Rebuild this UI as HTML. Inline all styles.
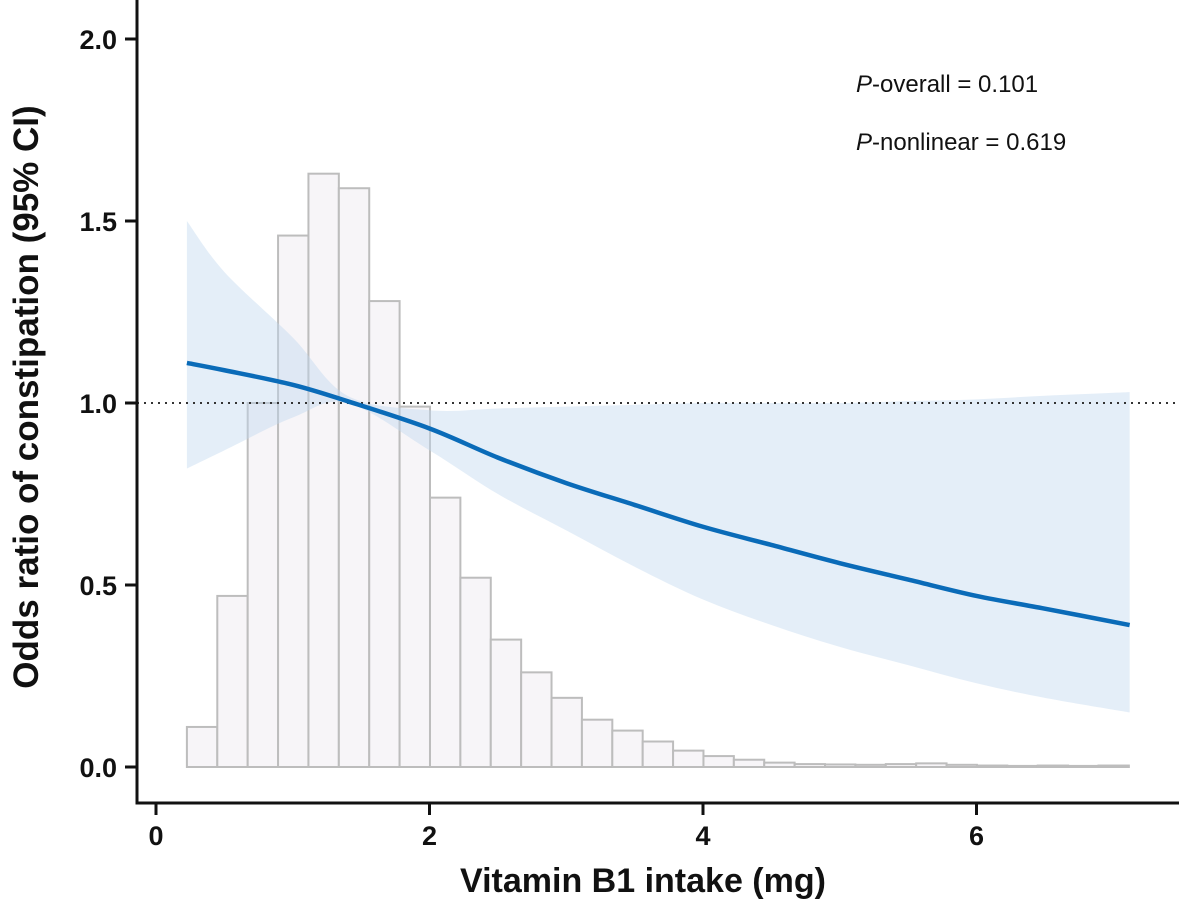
<!DOCTYPE html>
<html><head><meta charset="utf-8"><style>
html,body{margin:0;padding:0;background:#fff;}
svg text{font-family:"Liberation Sans",Arial,sans-serif;}
</style></head><body>
<svg id="chart" width="1179" height="910" viewBox="0 0 1179 910" xmlns="http://www.w3.org/2000/svg">
<g id="bars"></g>
<g id="band"></g>
<line x1="137" y1="403" x2="1179" y2="403" stroke="#333" stroke-width="2" stroke-dasharray="2,5"/>
<g id="curve"></g>
<g id="axes"></g>
<text x="856" y="92" font-size="24" fill="#111"><tspan font-style="italic">P</tspan>-overall = 0.101</text>
<text x="856" y="150" font-size="24" fill="#111"><tspan font-style="italic">P</tspan>-nonlinear = 0.619</text>
<text x="643" y="892" font-size="34" font-weight="bold" text-anchor="middle" fill="#111">Vitamin B1 intake (mg)</text>
<text transform="translate(38,397) rotate(-90)" font-size="35" font-weight="bold" text-anchor="middle" fill="#111">Odds ratio of constipation (95% CI)</text>
</svg>
<script>
const binStart = 0.226, binWidth = 0.2222;
const binHeights = [0.11,0.47,1.0,1.46,1.63,1.59,1.28,0.99,0.74,0.52,0.35,0.26,0.19,0.13,0.10,0.07,0.045,0.03,0.02,0.012,0.008,0.007,0.006,0.008,0.01,0.006,0.004,0.003,0.004,0.003,0.004];
const curveX = [0.226,0.5,1.0,1.4,2.0,2.5,3.0,3.5,4.0,4.5,5.0,5.5,6.0,6.5,7.12];
const curveY = [1.11,1.09,1.05,1.005,0.93,0.85,0.78,0.72,0.66,0.61,0.56,0.515,0.47,0.435,0.39];
const upperY = [1.50,1.36,1.18,1.02,0.98,0.985,0.99,0.995,1.0,1.0,1.0,1.005,1.01,1.02,1.03];
const lowerY = [0.82,0.87,0.96,1.0,0.87,0.75,0.65,0.55,0.46,0.39,0.33,0.28,0.23,0.19,0.15];
const xTicks = [0,2,4,6];
const yTicks = [0.0,0.5,1.0,1.5,2.0];
const ns="http://www.w3.org/2000/svg";
const X=v=>156+v*136.75, Y=v=>767-v*364;
function mk(t,a,p){const e=document.createElementNS(ns,t);for(const k in a)e.setAttribute(k,a[k]);p.appendChild(e);return e;}
const bars=document.getElementById('bars');
binHeights.forEach((h,i)=>{const x0=X(binStart+i*binWidth),x1=X(binStart+(i+1)*binWidth);
const r=mk('rect',{x:x0,y:Y(h),width:x1-x0,height:767-Y(h),fill:'#f7f5f8',stroke:'#bdbdbd','stroke-width':2},bars);

});
function smooth(pts){let s='M'+pts[0][0]+','+pts[0][1];for(let i=0;i<pts.length-1;i++){const p0=pts[Math.max(i-1,0)],p1=pts[i],p2=pts[i+1],p3=pts[Math.min(i+2,pts.length-1)];
s+='C'+(p1[0]+(p2[0]-p0[0])/6)+','+(p1[1]+(p2[1]-p0[1])/6)+' '+(p2[0]-(p3[0]-p1[0])/6)+','+(p2[1]-(p3[1]-p1[1])/6)+' '+p2[0]+','+p2[1];}return s;}
const up=curveX.map((x,i)=>[X(x),Y(upperY[i])]), lo=curveX.map((x,i)=>[X(x),Y(lowerY[i])]).reverse();
const d=smooth(up)+'L'+smooth(lo).slice(1)+'Z';
const b=mk('path',{d:d,fill:'rgba(190,215,238,0.42)'},document.getElementById('band'));


const c=mk('path',{d:smooth(curveX.map((x,i)=>[X(x),Y(curveY[i])])),fill:'none',stroke:'#0a6bb8','stroke-width':4.5,'stroke-linejoin':'round'},document.getElementById('curve'));


const ax=document.getElementById('axes');
mk('path',{d:'M137,0V803H1179',fill:'none',stroke:'#111','stroke-width':3},ax);
xTicks.forEach(v=>{mk('line',{x1:X(v),x2:X(v),y1:803,y2:815,stroke:'#111','stroke-width':3},ax);
const t=mk('text',{x:X(v),y:845,'font-size':27,'font-weight':'bold','text-anchor':'middle',fill:'#111'},ax);t.textContent=v;

});
yTicks.forEach(v=>{mk('line',{x1:125,x2:137,y1:Y(v),y2:Y(v),stroke:'#111','stroke-width':3},ax);
const t=mk('text',{x:117,y:Y(v)+10,'font-size':27,'font-weight':'bold','text-anchor':'end',fill:'#111'},ax);t.textContent=v.toFixed(1);

});
</script>
</body></html>
